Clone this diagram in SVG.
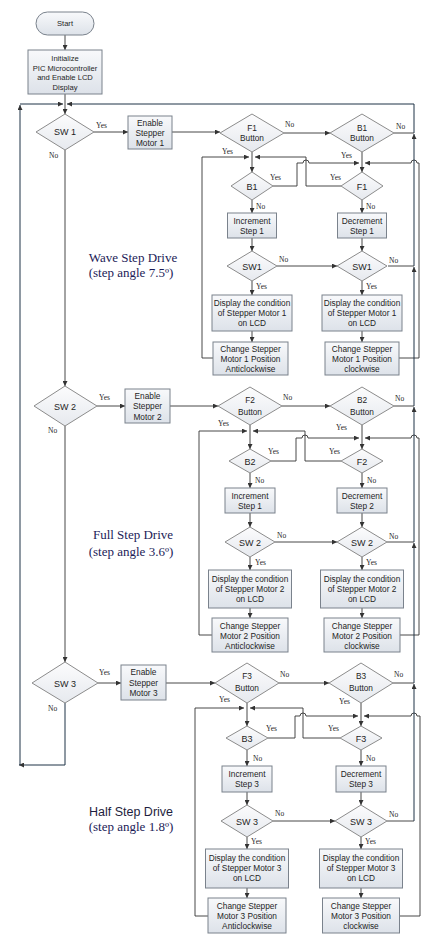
<svg xmlns="http://www.w3.org/2000/svg" width="443" height="946" viewBox="0 0 443 946">
<style>
.box{fill:url(#gb);stroke:#7a828c;stroke-width:1}
.dia{fill:url(#gd);stroke:#8c8c8c;stroke-width:1}
.t{font-family:"Liberation Sans",Arial,sans-serif;font-size:8.3px;fill:#1e1e1e;text-anchor:middle}
.ts{font-family:"Liberation Sans",Arial,sans-serif;font-size:7.6px;fill:#1e1e1e;text-anchor:middle}
.td{font-family:"Liberation Sans",Arial,sans-serif;font-size:9px;fill:#1e1e1e;text-anchor:middle}
.l{font-family:"Liberation Serif","Times New Roman",serif;font-size:7.5px;fill:#1e1e1e}
.sec{font-family:"Liberation Serif","Times New Roman",serif;font-size:13px;fill:#1c1c58;text-anchor:middle}
.secs{font-family:"Liberation Sans",Arial,sans-serif;font-size:12.5px;fill:#1e1e40;text-anchor:middle}
.c{fill:none;stroke:#333;stroke-width:0.9}
.o{fill:none;stroke:#1f3347;stroke-width:1}
.a{marker-end:url(#ah)}
</style>
<defs>
<linearGradient id="gb" x1="0" y1="0" x2="0" y2="1"><stop offset="0" stop-color="#f8f9fb"/><stop offset="1" stop-color="#dde2e9"/></linearGradient>
<linearGradient id="gd" x1="0" y1="0" x2="0" y2="1"><stop offset="0" stop-color="#fcfcfd"/><stop offset="1" stop-color="#e6e9ee"/></linearGradient>
<marker id="ah" viewBox="0 0 6 6" refX="6" refY="3" markerWidth="5" markerHeight="5" orient="auto" markerUnits="userSpaceOnUse"><path d="M0,0 L6,3 L0,6 z" fill="#333"/></marker>
</defs>
<rect width="443" height="946" fill="#ffffff"/>

<g id="connectors">
<path class="c a" d="M65,35 V50"/>
<path class="c a" d="M65,94 V114"/>
<!-- section 1 -->
<path class="c a" d="M94,132 H128"/>
<path class="c a" d="M172,132 H220"/>
<path class="c a" d="M284,133 H330"/>
<path class="c" d="M394,133 H414"/>
<path class="c a" d="M252,152 V172"/>
<path class="c a" d="M362,152 V172"/>
<path class="c a" d="M252,200 V213"/>
<path class="c a" d="M362,200 V213"/>
<path class="c a" d="M252,238 V251"/>
<path class="c a" d="M362,238 V251"/>
<path class="c a" d="M277,266 H337"/>
<path class="c" d="M388,266 H414"/>
<path class="c a" d="M252,281 V295"/>
<path class="c a" d="M362,281 V295"/>
<path class="c a" d="M252,331 V342"/>
<path class="c a" d="M362,331 V342"/>
<path class="c a" d="M273,186 H297 V163 H303 A3,3 0 0 1 309,163 H359"/>
<path class="c a" d="M341,186 H306 V157 H255"/>
<path class="c a" d="M213,358 H202 V157 H249"/>
<path class="c a" d="M399,358 H419 V163 H417 A3,3 0 0 0 411,163 H365"/>
<path class="c a" d="M65,150 V386"/>
<!-- section 2 -->
<path class="c a" d="M97,406 H125"/>
<path class="c a" d="M170,406 H218"/>
<path class="c a" d="M282,406 H330"/>
<path class="c" d="M394,406 H414"/>
<path class="c a" d="M250,425 V449"/>
<path class="c a" d="M362,425 V449"/>
<path class="c a" d="M250,473 V488"/>
<path class="c a" d="M362,473 V488"/>
<path class="c a" d="M250,513 V527"/>
<path class="c a" d="M362,513 V527"/>
<path class="c a" d="M275,542 H337"/>
<path class="c" d="M387,542 H414"/>
<path class="c a" d="M250,557 V570"/>
<path class="c a" d="M362,557 V570"/>
<path class="c a" d="M250,608 V618"/>
<path class="c a" d="M362,608 V618"/>
<path class="c a" d="M271,461 H296 V438 H302 A3,3 0 0 1 308,438 H359"/>
<path class="c a" d="M341,461 H305 V431 H253"/>
<path class="c a" d="M212,635 H199 V431 H247"/>
<path class="c a" d="M400,635 H419 V438 H417 A3,3 0 0 0 411,438 H365"/>
<path class="c a" d="M65,426 V662"/>
<!-- section 3 -->
<path class="c a" d="M98,683 H121"/>
<path class="c a" d="M166,683 H215"/>
<path class="c a" d="M279,683 H329"/>
<path class="c" d="M393,683 H414"/>
<path class="c a" d="M247,703 V726"/>
<path class="c a" d="M361,703 V726"/>
<path class="c a" d="M247,750 V766"/>
<path class="c a" d="M361,750 V766"/>
<path class="c a" d="M247,792 V805"/>
<path class="c a" d="M361,792 V805"/>
<path class="c a" d="M273,821 H335"/>
<path class="c" d="M387,821 H414"/>
<path class="c a" d="M247,837 V849"/>
<path class="c a" d="M361,837 V849"/>
<path class="c a" d="M247,888 V898"/>
<path class="c a" d="M361,888 V898"/>
<path class="c a" d="M268,738 H295 V716 H300 A3,3 0 0 1 306,716 H358"/>
<path class="c a" d="M340,738 H303 V708 H250"/>
<path class="c a" d="M208,916 H195 V708 H244"/>
<path class="c a" d="M400,916 H420 V716 H417 A3,3 0 0 0 411,716 H364"/>
<!-- outer return loops -->
<path class="o a" d="M65,703 V765 H19"/>
<path class="o a" d="M20,765 V105"/>
<path class="o a" d="M20,104 H63"/>
<path class="o a" d="M414,821 V684"/>
<path class="o a" d="M414,683 V543"/>
<path class="o a" d="M414,542 V407"/>
<path class="o a" d="M414,406 V267"/>
<path class="o a" d="M414,266 V134"/>
<path class="o a" d="M414,133 V104 H67"/>
</g>

<g id="start"><rect class="box" x="36" y="12" width="58" height="23" rx="11.5"/><text class="ts" x="65" y="26">Start</text></g>
<g id="init"><rect class="box" x="28" y="50" width="74" height="44"/>
<text class="ts" x="65" y="61">Initialize</text><text class="ts" x="65" y="70.5">PIC Microcontroller</text><text class="ts" x="65" y="80">and Enable LCD</text><text class="ts" x="65" y="89.5">Display</text></g>

<!-- Section 1 -->
<g id="sw1"><polygon class="dia" points="36,132 65,114 94,132 65,150"/><text class="td" x="65" y="135">SW 1</text></g>
<g id="enable1"><rect class="box" x="128" y="116" width="44" height="33"/><text class="t" x="150" y="126">Enable</text><text class="t" x="150" y="136">Stepper</text><text class="t" x="150" y="146">Motor 1</text></g>
<g id="f1button"><polygon class="dia" points="220,133 252,114 284,133 252,152"/><text class="t" x="252" y="130.5">F1</text><text class="t" x="252" y="141">Button</text></g>
<g id="b1button"><polygon class="dia" points="330,133 362,114 394,133 362,152"/><text class="t" x="362" y="130.5">B1</text><text class="t" x="362" y="141">Button</text></g>
<g id="b1check"><polygon class="dia" points="231,186 252,172 273,186 252,200"/><text class="td" x="252" y="189.5">B1</text></g>
<g id="f1check"><polygon class="dia" points="341,186 362,172 383,186 362,200"/><text class="td" x="362" y="189.5">F1</text></g>
<g id="inc1"><rect class="box" x="227.5" y="213" width="49" height="25"/><text class="t" x="252" y="224">Increment</text><text class="t" x="252" y="234">Step 1</text></g>
<g id="dec1"><rect class="box" x="337.5" y="213" width="49" height="25"/><text class="t" x="362" y="224">Decrement</text><text class="t" x="362" y="234">Step 1</text></g>
<g id="sw1a"><polygon class="dia" points="227,266 252,251 277,266 252,281"/><text class="td" x="252" y="269.5">SW1</text></g>
<g id="sw1b"><polygon class="dia" points="337,266 362,251 387,266 362,281"/><text class="td" x="362" y="269.5">SW1</text></g>
<g id="disp1a"><rect class="box" x="212" y="295" width="80" height="36"/><text class="t" x="252" y="306">Display the condition</text><text class="t" x="252" y="316">of Stepper Motor 1</text><text class="t" x="252" y="326">on LCD</text></g>
<g id="disp1b"><rect class="box" x="322" y="295" width="80" height="36"/><text class="t" x="362" y="306">Display the condition</text><text class="t" x="362" y="316">of Stepper Motor 1</text><text class="t" x="362" y="326">on LCD</text></g>
<g id="chg1a"><rect class="box" x="213" y="342" width="75" height="33"/><text class="t" x="250.5" y="352">Change Stepper</text><text class="t" x="250.5" y="362">Motor 1 Position</text><text class="t" x="250.5" y="372">Anticlockwise</text></g>
<g id="chg1b"><rect class="box" x="325" y="342" width="74" height="33"/><text class="t" x="362" y="352">Change Stepper</text><text class="t" x="362" y="362">Motor 1 Position</text><text class="t" x="362" y="372">clockwise</text></g>

<!-- Section 2 -->
<g id="sw2"><polygon class="dia" points="34,406 65,386 97,406 65,426"/><text class="td" x="65" y="409.5">SW 2</text></g>
<g id="enable2"><rect class="box" x="125" y="389" width="45" height="34"/><text class="t" x="147.5" y="399">Enable</text><text class="t" x="147.5" y="409">Stepper</text><text class="t" x="147.5" y="420">Motor 2</text></g>
<g id="f2button"><polygon class="dia" points="218,406 250,387 282,406 250,425"/><text class="t" x="250" y="403">F2</text><text class="t" x="250" y="415">Button</text></g>
<g id="b2button"><polygon class="dia" points="330,406 362,387 394,406 362,425"/><text class="t" x="362" y="403">B2</text><text class="t" x="362" y="415">Button</text></g>
<g id="b2check"><polygon class="dia" points="229,461 250,449 271,461 250,473"/><text class="td" x="250" y="464.5">B2</text></g>
<g id="f2check"><polygon class="dia" points="341,461 362,449 383,461 362,473"/><text class="td" x="362" y="464.5">F2</text></g>
<g id="inc2"><rect class="box" x="225" y="488" width="50" height="25"/><text class="t" x="250" y="499">Increment</text><text class="t" x="250" y="509">Step 1</text></g>
<g id="dec2"><rect class="box" x="337" y="488" width="50" height="25"/><text class="t" x="362" y="499">Decrement</text><text class="t" x="362" y="509">Step 2</text></g>
<g id="sw2a"><polygon class="dia" points="225,542 250,527 275,542 250,557"/><text class="td" x="250" y="545.5">SW 2</text></g>
<g id="sw2b"><polygon class="dia" points="337,542 362,527 387,542 362,557"/><text class="td" x="362" y="545.5">SW 2</text></g>
<g id="disp2a"><rect class="box" x="208.5" y="570" width="83" height="38"/><text class="t" x="250" y="582">Display the condition</text><text class="t" x="250" y="592">of Stepper Motor 2</text><text class="t" x="250" y="602">on LCD</text></g>
<g id="disp2b"><rect class="box" x="320.5" y="570" width="83" height="38"/><text class="t" x="362" y="582">Display the condition</text><text class="t" x="362" y="592">of Stepper Motor 2</text><text class="t" x="362" y="602">on LCD</text></g>
<g id="chg2a"><rect class="box" x="212" y="618" width="76" height="34"/><text class="t" x="250" y="629">Change Stepper</text><text class="t" x="250" y="639">Motor 2 Position</text><text class="t" x="250" y="649">Anticlockwise</text></g>
<g id="chg2b"><rect class="box" x="324" y="618" width="76" height="34"/><text class="t" x="362" y="629">Change Stepper</text><text class="t" x="362" y="639">Motor 2 Position</text><text class="t" x="362" y="649">clockwise</text></g>

<!-- Section 3 -->
<g id="sw3"><polygon class="dia" points="32,683 65,662 98,683 65,703"/><text class="td" x="65" y="686.5">SW 3</text></g>
<g id="enable3"><rect class="box" x="121" y="665" width="45" height="35"/><text class="t" x="143.5" y="675">Enable</text><text class="t" x="143.5" y="686">Stepper</text><text class="t" x="143.5" y="696">Motor 3</text></g>
<g id="f3button"><polygon class="dia" points="215,683 247,663 279,683 247,703"/><text class="t" x="247" y="679">F3</text><text class="t" x="247" y="691">Button</text></g>
<g id="b3button"><polygon class="dia" points="329,683 361,663 393,683 361,703"/><text class="t" x="361" y="679">B3</text><text class="t" x="361" y="691">Button</text></g>
<g id="b3check"><polygon class="dia" points="226,738 247,726 268,738 247,750"/><text class="td" x="247" y="741.5">B3</text></g>
<g id="f3check"><polygon class="dia" points="340,738 361,726 382,738 361,750"/><text class="td" x="361" y="741.5">F3</text></g>
<g id="inc3"><rect class="box" x="222" y="766" width="50" height="26"/><text class="t" x="247" y="777">Increment</text><text class="t" x="247" y="787">Step 3</text></g>
<g id="dec3"><rect class="box" x="336" y="766" width="50" height="26"/><text class="t" x="361" y="777">Decrement</text><text class="t" x="361" y="787">Step 3</text></g>
<g id="sw3a"><polygon class="dia" points="221,821 247,805 273,821 247,837"/><text class="td" x="247" y="824.5">SW 3</text></g>
<g id="sw3b"><polygon class="dia" points="335,821 361,805 387,821 361,837"/><text class="td" x="361" y="824.5">SW 3</text></g>
<g id="disp3a"><rect class="box" x="205.5" y="849" width="83" height="39"/><text class="t" x="247" y="861">Display the condition</text><text class="t" x="247" y="871">of Stepper Motor 3</text><text class="t" x="247" y="881">on LCD</text></g>
<g id="disp3b"><rect class="box" x="319.5" y="849" width="83" height="39"/><text class="t" x="361" y="861">Display the condition</text><text class="t" x="361" y="871">of Stepper Motor 3</text><text class="t" x="361" y="881">on LCD</text></g>
<g id="chg3a"><rect class="box" x="208" y="898" width="78" height="35"/><text class="t" x="247" y="909">Change Stepper</text><text class="t" x="247" y="919">Motor 3 Position</text><text class="t" x="247" y="929">Anticlockwise</text></g>
<g id="chg3b"><rect class="box" x="322.5" y="898" width="77" height="35"/><text class="t" x="361" y="909">Change Stepper</text><text class="t" x="361" y="919">Motor 3 Position</text><text class="t" x="361" y="929">clockwise</text></g>

<g id="labels">
<text class="l" x="96" y="128">Yes</text><text class="l" x="49" y="158">No</text>
<text class="l" x="285" y="127">No</text><text class="l" x="222" y="154">Yes</text>
<text class="l" x="396" y="129">No</text><text class="l" x="341" y="158">Yes</text>
<text class="l" x="270" y="180">Yes</text><text class="l" x="330" y="180">Yes</text>
<text class="l" x="256" y="209">No</text><text class="l" x="366" y="209">No</text>
<text class="l" x="279" y="262">No</text><text class="l" x="389" y="263">No</text>
<text class="l" x="256" y="289">Yes</text><text class="l" x="366" y="289">Yes</text>

<text class="l" x="99" y="400">Yes</text><text class="l" x="48" y="433">No</text>
<text class="l" x="283" y="400">No</text><text class="l" x="218" y="426">Yes</text>
<text class="l" x="395" y="401">No</text><text class="l" x="336" y="430">Yes</text>
<text class="l" x="268" y="454">Yes</text><text class="l" x="329" y="454">Yes</text>
<text class="l" x="255" y="483">No</text><text class="l" x="367" y="483">No</text>
<text class="l" x="277" y="538">No</text><text class="l" x="389" y="539">No</text>
<text class="l" x="255" y="565">Yes</text><text class="l" x="366" y="565">Yes</text>

<text class="l" x="99" y="675">Yes</text><text class="l" x="48" y="711">No</text>
<text class="l" x="280" y="677">No</text><text class="l" x="219" y="702">Yes</text>
<text class="l" x="394" y="677">No</text><text class="l" x="339" y="704">Yes</text>
<text class="l" x="266" y="731">Yes</text><text class="l" x="328" y="731">Yes</text>
<text class="l" x="253" y="761">No</text><text class="l" x="366" y="761">No</text>
<text class="l" x="275" y="816">No</text><text class="l" x="389" y="817">No</text>
<text class="l" x="251" y="844">Yes</text><text class="l" x="365" y="844">Yes</text>
</g>

<g id="section-titles">
<text class="sec" x="133" y="262">Wave Step Drive</text>
<text class="sec" x="131" y="277">(step angle 7.5º)</text>
<text class="sec" x="133" y="539">Full Step Drive</text>
<text class="sec" x="131" y="556">(step angle 3.6º)</text>
<text class="secs" x="131" y="816">Half Step Drive</text>
<text class="sec" x="131" y="831">(step angle 1.8º)</text>
</g>
</svg>
